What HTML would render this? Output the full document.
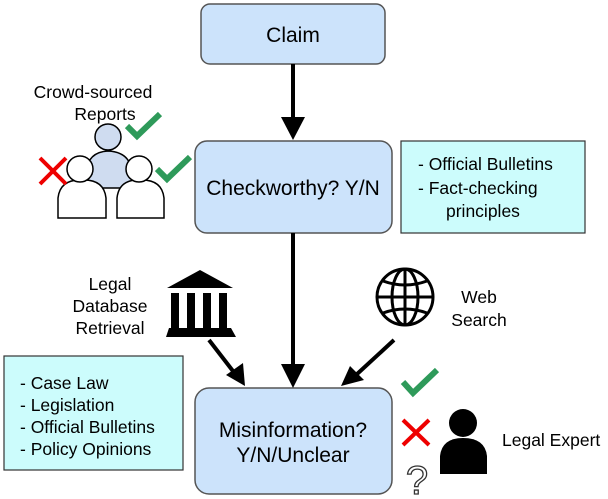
<!DOCTYPE html>
<html><head><style>
html,body{margin:0;padding:0;background:#fff;}
svg{display:block;font-family:"Liberation Sans",Arial,sans-serif;}
</style></head><body>
<svg width="608" height="499" viewBox="0 0 608 499" xmlns="http://www.w3.org/2000/svg">
<rect x="201" y="4" width="184" height="60" rx="9" fill="#cce3fb" stroke="#555" stroke-width="1.5"/>
<text x="293" y="42" font-size="21" text-anchor="middle">Claim</text>
<rect x="195" y="141" width="197" height="92" rx="12" fill="#cce3fb" stroke="#555" stroke-width="1.5"/>
<text x="293" y="195" font-size="21" text-anchor="middle">Checkworthy? Y/N</text>
<rect x="195" y="388" width="197" height="106" rx="14" fill="#cce3fb" stroke="#555" stroke-width="1.5"/>
<text x="293" y="437" font-size="21" text-anchor="middle">Misinformation?</text>
<text x="293" y="462" font-size="21" text-anchor="middle">Y/N/Unclear</text>
<rect x="401" y="141" width="184" height="92" fill="#ccfcfc" stroke="#333" stroke-width="1.2"/>
<text font-size="17.5"><tspan x="418" y="170">- Official Bulletins</tspan><tspan x="418" y="194">- Fact-checking</tspan><tspan x="446" y="217">principles</tspan></text>
<rect x="4" y="356" width="179" height="114" fill="#ccfcfc" stroke="#333" stroke-width="1.2"/>
<text font-size="17.5"><tspan x="20" y="389">- Case Law</tspan><tspan x="20" y="411">- Legislation</tspan><tspan x="20" y="433">- Official Bulletins</tspan><tspan x="20" y="455">- Policy Opinions</tspan></text>
<g stroke="#000" stroke-width="4" fill="#000">
<line x1="293" y1="64" x2="293" y2="124"/>
<line x1="293" y1="233" x2="293" y2="372"/>
<line x1="209" y1="340" x2="236" y2="375"/>
<line x1="394" y1="340" x2="356" y2="375"/>
</g>
<polygon points="281,117 305,117 293,140" fill="#000"/>
<polygon points="281,364 305,364 293,388" fill="#000"/>
<polygon points="226,375 243,363 245,386" fill="#000"/>
<polygon points="350,366 364,380 341,386" fill="#000"/>
<text font-size="17.5" text-anchor="middle"><tspan x="93" y="98">Crowd-sourced</tspan><tspan x="105" y="120">Reports</tspan></text>
<text font-size="17.5" text-anchor="middle"><tspan x="110" y="290">Legal</tspan><tspan x="110" y="312">Database</tspan><tspan x="110" y="334">Retrieval</tspan></text>
<text font-size="17.5" text-anchor="middle"><tspan x="479" y="303">Web</tspan><tspan x="479" y="326">Search</tspan></text>
<text x="502" y="446" font-size="17.5">Legal Expert</text>
<g stroke="#000" stroke-width="1.5">
<path d="M86,188 L86,172 Q88,152 108,151 Q130,152 132,172 L132,188 Z" fill="#cfdcf0"/>
<circle cx="108" cy="137" r="13" fill="#cfdcf0"/>
<path d="M58,218 L58,198 Q60,180 80,180 L84,180 Q104,180 106,198 L106,218 Z" fill="#fff"/>
<circle cx="80" cy="169" r="13" fill="#fff"/>
<path d="M117,218 L117,198 Q119,180 138,180 L142,180 Q162,180 164,198 L164,218 Z" fill="#fff"/>
<circle cx="139" cy="169" r="13" fill="#fff"/>
</g>
<g fill="none" stroke="#2e9a5a" stroke-width="6">
<path d="M127,126 L137,136 L160,114"/>
<path d="M157,169 L167,179 L190,157"/>
<path d="M403,382 L413,393 L437,370"/>
</g>
<g stroke="#e00" stroke-width="4">
<line x1="40" y1="158" x2="66" y2="184"/><line x1="66" y1="158" x2="40" y2="184"/>
<line x1="403" y1="420" x2="429" y2="445"/><line x1="429" y1="420" x2="403" y2="445"/>
</g>
<text x="417" y="494" font-size="40" fill="#fff" stroke="#333" stroke-width="1.3" text-anchor="middle">?</text>
<circle cx="463" cy="423" r="14" fill="#000"/>
<path d="M440,474 L440,456 Q442,438 463,438 Q485,438 487,456 L487,474 Z" fill="#000"/>
<g fill="#000">
<polygon points="200,270 167,288 233,288"/>
<rect x="171" y="293" width="8" height="35"/>
<rect x="187" y="293" width="8" height="35"/>
<rect x="203" y="293" width="8" height="35"/>
<rect x="219" y="293" width="8" height="35"/>
<polygon points="169,328 231,328 236,337 166,337"/>
</g>
<g fill="none" stroke="#000" stroke-width="3">
<circle cx="405" cy="297" r="28"/>
<ellipse cx="405" cy="297" rx="13" ry="28"/>
<line x1="377" y1="297" x2="433" y2="297"/>
<line x1="405" y1="269" x2="405" y2="325"/>
<path d="M383,281 Q405,289 427,281"/>
<path d="M383,313 Q405,305 427,313"/>
</g>
</svg>
</body></html>
